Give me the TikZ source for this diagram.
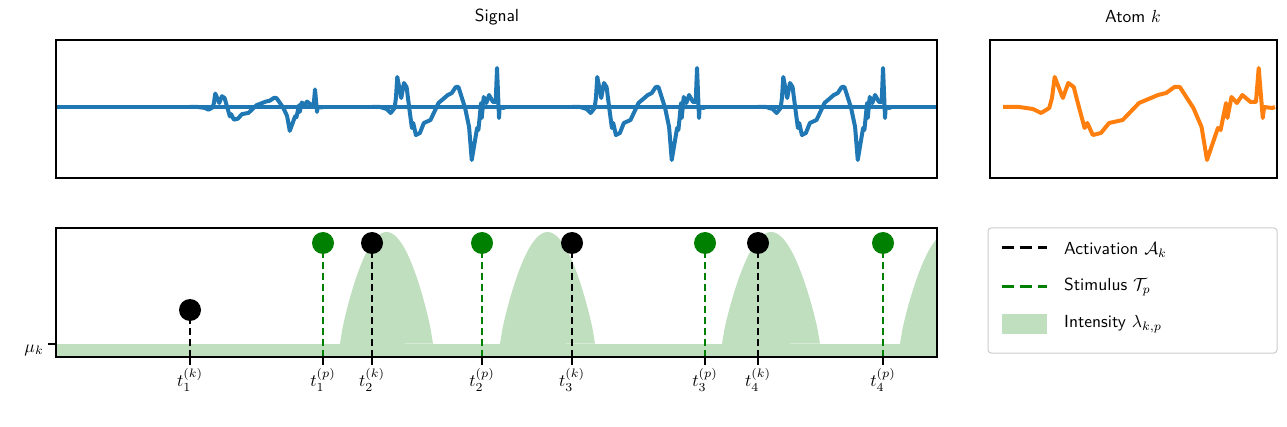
\documentclass[tikz,border=0pt]{standalone}
\begin{document}
\definecolor{sigblue}{HTML}{1F77B4}
\definecolor{atomorange}{HTML}{FF7F0E}
\definecolor{mplgreen}{HTML}{008000}
\definecolor{intfill}{HTML}{BFDFBF}
\newcommand\atompath{(0,0)--(0.06,0)--(0.11,-2)--(0.14,-6)--(0.17,-1)--(0.18,9)--(0.19,30)--(0.22,9)--(0.24,24)--(0.26,20)--(0.28,-1)--(0.30,-21)--(0.31,-16)--(0.33,-28)--(0.36,-26)--(0.39,-16)--(0.44,-13)--(0.50,4)--(0.57,12)--(0.60,14)--(0.63,20)--(0.65,20)--(0.70,-1)--(0.73,-20)--(0.75,-53)--(0.79,-21)--(0.80,-23)--(0.82,4)--(0.825,-11)--(0.84,10)--(0.86,4)--(0.88,12)--(0.91,5)--(0.93,5)--(0.94,39)--(0.955,-11)--(0.96,0)--(0.99,-1)--(1,0)}
\begin{tikzpicture}[x=1pt,y=-1pt,
  txt/.style={font=\sffamily,scale=1.75,transform shape},
  frame/.style={draw=black,line width=1.6pt},
  sig/.style={sigblue,line width=4pt,line join=round},
  atm/.style={atomorange,line width=4pt,line join=round},
  stemk/.style={black,line width=2.4pt,dash pattern=on 7pt off 4pt},
  stemp/.style={mplgreen,line width=2.4pt,dash pattern=on 7pt off 4pt},
  dotk/.style={circle,fill=black,minimum size=22pt,inner sep=0pt},
  dotp/.style={circle,fill=mplgreen,minimum size=22pt,inner sep=0pt},
  lab/.style={txt,anchor=north,inner sep=0pt}]
\useasboundingbox (0,0) rectangle (1287,427);
% titles
\node[txt] (tsig) at (497,17) {Signal};
\node[txt] (tatom) at (1133,17) {Atom $k$};
% signal panel
\draw[sig] (57,107) -- (936,107);
\foreach \t/\a in {190/0.45,372/1,572/1,758/1}{
  \begin{scope}[shift={(\t,107)},xscale=133,yscale=-\a]
    \draw[sig] \atompath;
  \end{scope}}
\node[frame,minimum width=881pt,minimum height=138pt,inner sep=0pt] (sigbox) at (496.5,109) {};
% atom panel
\begin{scope}[shift={(1003,107)},xscale=272,yscale=-1]
  \draw[atm] \atompath;
\end{scope}
\node[frame,minimum width=287pt,minimum height=138pt,inner sep=0pt] (atombox) at (1133.5,109) {};
% intensity panel
\begin{scope}
\clip (56,228) rectangle (937,357);
\fill[intfill] (56,344) rectangle (937,357);
\foreach \s/\w in {340/93,500/95,722/98,900/98}{
  \fill[intfill] plot[domain=0:1,samples=40,smooth] ({\s+\w*\x},{344-112*sin(180*\x)^0.8}) -- cycle;}
\end{scope}
\foreach \x/\y in {190/310,372/243,572/243,758/243}{
  \draw[stemk] (\x,357) -- (\x,\y);
  \node[dotk] at (\x,\y) {};}
\foreach \x in {323,482,705,883}{
  \draw[stemp] (\x,357) -- (\x,243);
  \node[dotp] at (\x,243) {};}
\node[frame,minimum width=881pt,minimum height=129pt,inner sep=0pt] (intbox) at (496.5,292.5) {};
% ticks and labels
\draw[line width=1.2pt] (48,344) -- (56,344);
\node[txt,anchor=east,inner sep=0pt] (mu) at (44,350) {$\mu_k$};
\foreach \x/\l in {190/{t_1^{(k)}},323/{t_1^{(p)}},372/{t_2^{(k)}},482/{t_2^{(p)}},572/{t_3^{(k)}},705/{t_3^{(p)}},758/{t_4^{(k)}},883/{t_4^{(p)}}}{
  \draw[line width=1.2pt] (\x,357) -- (\x,365);
  \node[lab] at (\x,368) {$\l$};}
% legend
\node[draw=black!20,rounded corners=3pt,line width=1pt,minimum width=289pt,minimum height=125pt,inner sep=0pt] (leg) at (1132.5,290.5) {};
\draw[black,line width=3pt,dash pattern=on 12pt off 6pt] (1002,248) -- (1047,248);
\node[txt,anchor=west] (l1) at (1058,250) {Activation $\mathcal{A}_k$};
\draw[mplgreen,line width=3pt,dash pattern=on 12pt off 6pt] (1002,287) -- (1047,287);
\node[txt,anchor=west] (l2) at (1058,287) {Stimulus $\mathcal{T}_p$};
\fill[intfill] (1002,314) rectangle (1047,334);
\node[txt,anchor=west] (l3) at (1058,324) {Intensity $\lambda_{k,p}$};
\end{tikzpicture}
\end{document}
